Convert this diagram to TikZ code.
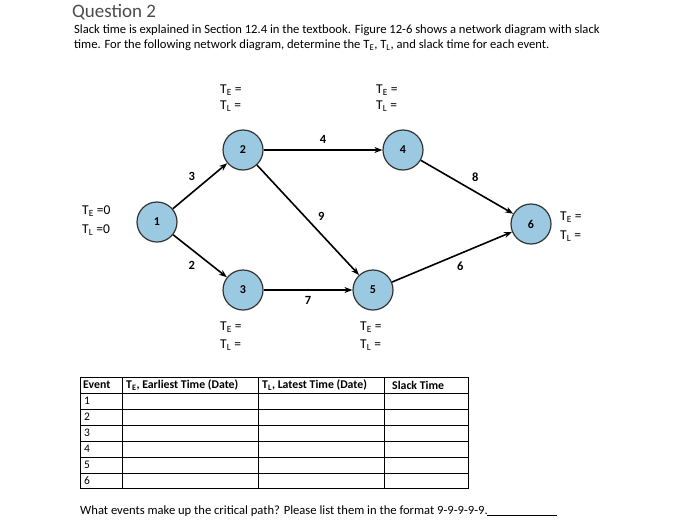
\documentclass[tikz,border=0pt]{standalone}
\usepackage{fontspec}
\setmainfont{Carlito}
\usetikzlibrary{arrows.meta}
\definecolor{nodefill}{HTML}{9CC9E2}
\begin{document}
\begin{tikzpicture}[x=1pt,y=-1pt,
 ev/.style={circle,draw=black!80,line width=1.2pt,fill=nodefill,minimum size=40pt,inner sep=0pt,font=\bfseries\fontsize{12}{14}\selectfont},
 act/.style={-{Stealth[length=8pt]},line width=1.6pt},
 lab/.style={font=\bfseries\fontsize{12.5}{14}\selectfont},
 tt/.style={font=\fontsize{13.5}{16}\selectfont,anchor=west,inner sep=0pt},
 txt/.style={anchor=west,inner sep=0pt,font=\fontsize{12.6}{15}\selectfont},
 th/.style={anchor=west,inner sep=0pt,font=\bfseries\fontsize{11.8}{13}\selectfont}]
\useasboundingbox (0,0) rectangle (700,525);
\fill[white] (0,0) rectangle (700,525);
\node[anchor=west,inner sep=0pt,font=\fontsize{19}{22}\selectfont,text=black!70] (q) at (72,12) {Question 2};
\node[txt] (l1) at (74,30) {Slack time is explained in Section 12.4 in the textbook. Figure 12-6 shows a network diagram with slack};
\node[txt] (l2) at (74,45) {time. For the following network diagram, determine the T\textsubscript{E}, T\textsubscript{L}, and slack time for each event.};
\node[ev] (n1) at (157,222) {1};
\node[ev] (n2) at (243,150) {2};
\node[ev] (n3) at (243,290) {3};
\node[ev] (n4) at (403,150) {4};
\node[ev] (n5) at (373,290) {5};
\node[ev] (n6) at (531,224) {6};
\draw[act] (n1) -- (n2) node[lab,pos=0.5,above left=1pt] (e12) {3};
\draw[act] (n2) -- (n4) node[lab,pos=0.5,above=2pt] (e24) {4};
\draw[act] (n2) -- (n5) node[lab,pos=0.55,above right=1pt] (e25) {9};
\draw[act] (n1) -- (n3) node[lab,pos=0.5,below left=1pt] (e13) {2};
\draw[act] (n3) -- (n5) node[lab,pos=0.5,below=2pt] (e35) {7};
\draw[act] (n4) -- (n6) node[lab,pos=0.5,above right=1pt] (e46) {8};
\draw[act] (n5) -- (n6) node[lab,pos=0.5,below right=1pt] (e56) {6};
\node[tt] (a1) at (220,90) {T\textsubscript{E} =};
\node[tt] (a2) at (220,106) {T\textsubscript{L} =};
\node[tt] (b1) at (376,90) {T\textsubscript{E} =};
\node[tt] (b2) at (376,106) {T\textsubscript{L} =};
\node[tt] (c1) at (82,211) {T\textsubscript{E} =0};
\node[tt] (c2) at (82,230) {T\textsubscript{L} =0};
\node[tt] (d1) at (560,217) {T\textsubscript{E} =};
\node[tt] (d2) at (560,236) {T\textsubscript{L} =};
\node[tt] (f1) at (220,327) {T\textsubscript{E} =};
\node[tt] (f2) at (220,345) {T\textsubscript{L} =};
\node[tt] (g1) at (360,327) {T\textsubscript{E} =};
\node[tt] (g2) at (360,345) {T\textsubscript{L} =};
% table
\draw[line width=0.6pt] (80,377) rectangle (468,488);
\foreach \y in {393,409,425,441,457,473} \draw[line width=0.6pt] (80,\y) -- (468,\y);
\foreach \x in {122,258,384} \draw[line width=0.6pt] (\x,377) -- (\x,488);
\node[th] (h1) at (83,385) {Event};
\node[th] (h2) at (126,385) {T\textsubscript{E}, Earliest Time (Date)};
\node[th] (h3) at (262,385) {T\textsubscript{L}, Latest Time (Date)};
\node[th] (h4) at (392,385) {Slack Time};
\foreach \i [count=\k] in {1,...,6} \node[txt,font=\fontsize{11.5}{13}\selectfont] (r\k) at (84,385+16*\k) {\i};
\node[txt] (bq) at (80,511) {What events make up the critical path? Please list them in the format 9-9-9-9-9.};
\draw (487,515) -- (557,515);
\end{tikzpicture}
\end{document}
